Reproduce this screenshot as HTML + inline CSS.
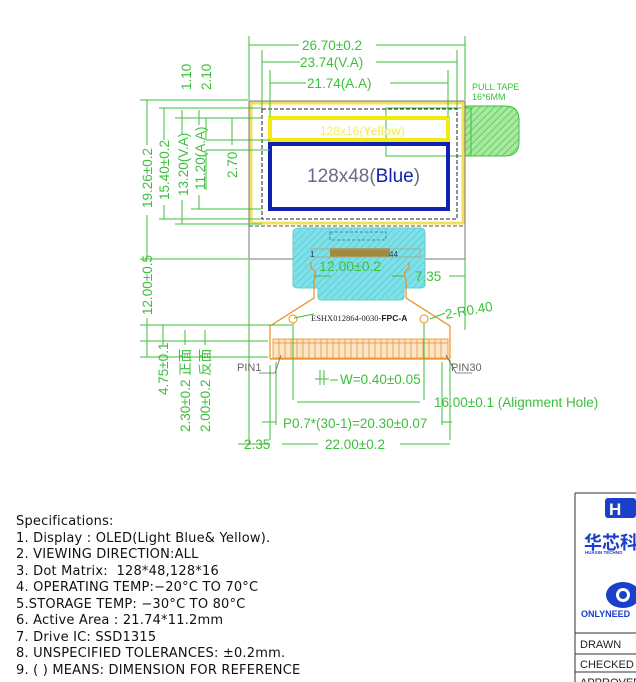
<!DOCTYPE html>
<html><head><meta charset="utf-8"><style>
body{margin:0;background:#fff;width:636px;height:682px;overflow:hidden;font-family:"Liberation Sans",sans-serif}
svg{position:absolute;left:0;top:0}
.sp{position:absolute;left:16px;top:514px;font-family:"DejaVu Sans",sans-serif;font-size:13px;line-height:16.5px;letter-spacing:0.2px;color:#111;white-space:pre}
</style></head><body>
<svg width="636" height="682" viewBox="0 0 636 682">
<defs>
<pattern id="hg" width="5" height="5" patternUnits="userSpaceOnUse" patternTransform="rotate(45)"><rect width="5" height="5" fill="#a8e8a0"/><line x1="0" y1="0" x2="0" y2="5" stroke="#3cbf3c" stroke-width="1.2"/></pattern>
<pattern id="hc" width="5" height="5" patternUnits="userSpaceOnUse" patternTransform="rotate(45)"><rect width="5" height="5" fill="#7fe0e8"/><line x1="0" y1="0" x2="0" y2="5" stroke="#40c0d0" stroke-width="1"/></pattern>
</defs>
<g fill="none">
<path d="M465 106 H505 Q519 106 519 120 V142 Q519 156 505 156 H465 Z" fill="url(#hg)" stroke="#3cbf3c"/>
<rect x="386" y="108" width="85" height="48" stroke="#3cbf3c"/>
<rect x="249" y="101" width="216" height="158" stroke="#777"/>
<rect x="251" y="103" width="212" height="120" stroke="#f0e060" stroke-width="3"/>
<line x1="249" y1="226" x2="465" y2="226" stroke="#555" stroke-dasharray="4,2"/>
<rect x="262" y="109" width="195" height="110" stroke="#222" stroke-dasharray="4,2"/>
<rect x="270" y="118" width="178" height="22" stroke="#f2ea10" stroke-width="4"/>
<rect x="270" y="144" width="178" height="65" stroke="#1020b0" stroke-width="4"/>
<path d="M293 233 Q293 228 300 228 H420 Q425 228 425 233 V285 Q425 288 420 288 H404 V297 Q404 300 400 300 H322 Q318 300 318 297 V288 H300 Q293 288 293 285 Z" fill="url(#hc)" stroke="#6cc"/>
<rect x="330" y="248" width="60" height="9" fill="#a08a40"/>
<rect x="312" y="249" width="108" height="8" stroke="#aa8"/>
<rect x="330" y="232" width="56" height="8" stroke="#4488aa" stroke-dasharray="3,2"/>
<path d="M311 262 V268 Q318 272 314 280 V298 L270 326 V359 M409 262 V268 Q402 272 406 280 V298 L450 326 V359 M270 359 H450" stroke="#e89020" stroke-width="1.2"/>
<rect x="273" y="339" width="175" height="19" fill="#fbe4c8" stroke="#e89020" stroke-width="0.8"/>
<g stroke="#e89020" stroke-width="0.7">
<path d="M279 339V358M285 339V358M291 339V358M297 339V358M303 339V358M309 339V358M315 339V358M321 339V358M327 339V358M333 339V358M339 339V358M345 339V358M351 339V358M357 339V358M363 339V358M369 339V358M375 339V358M381 339V358M387 339V358M393 339V358M399 339V358M405 339V358M411 339V358M417 339V358M423 339V358M429 339V358M435 339V358M441 339V358M273 343H448"/>
</g>
<circle cx="293" cy="319" r="4" stroke="#e89020"/><circle cx="424" cy="319" r="4" stroke="#e89020"/>
<g stroke="#3cbf3c" stroke-width="1">
<path d="M249 36V100M465 36V100M249 45H299M376 45H465M262 50V108M457 50V108M262 62H300M376 62H457M270 70V117M448 70V117M270 83H306M390 83H448"/>
<path d="M140 100H248M140 259H248M147 100V145M147 215V259M159 108H262M159 219H262M164 108V140M164 205V219M175 118H262M175 224H262M182 110V135M182 200V224M191 118H262M191 209H262M199 110V125M199 195V209M206 118V140M206 150V190M206 140H270M206 150H270M225 118H262M225 140H262M232 118V145"/>
<path d="M140 325H292M140 341H268M140 357H268M147 259V250M147 318V357M163 325V345M185 330V345M205 330V345"/>
<path d="M249 259V445M465 259V330M313 276H331M392 276H404M465 260V285M449 276H465"/>
<path d="M293 323V400M424 323V400M297 402H420M294 318L314 314M430 319L445 313"/>
<path d="M315 379H329M320 370V385M324 370V385M330 380H338"/>
<path d="M276 362V425M442 362V425M262 422H276M442 422H452M270 365V440M450 360V440M238 444H270M282 444H318M400 444H450"/>
</g>
<g stroke="#666" stroke-width="0.8"><path d="M259 373H275L281 355M456 373H472M456 373L446 355"/></g>
</g>
<g fill="#3cbf3c" font-size="13.5">
<text x="302" y="50">26.70±0.2</text>
<text x="300" y="67">23.74(V.A)</text>
<text x="307" y="88">21.74(A.A)</text>
<text x="472" y="90" font-size="9">PULL  TAPE</text>
<text x="472" y="100" font-size="9">16*6MM</text>
<text x="319" y="271" font-size="14">12.00±0.2</text>
<text x="415" y="281">7.35</text>
<text x="446" y="319" transform="rotate(-10 446 319)">2-R0.40</text>
<text x="340" y="384">W=0.40±0.05</text>
<text x="434" y="407">16.00±0.1 (Alignment Hole)</text>
<text x="283" y="428">P0.7*(30-1)=20.30±0.07</text>
<text x="244" y="449">2.35</text>
<text x="325" y="449">22.00±0.2</text>
<g transform="rotate(-90)">
<text x="-90" y="191">1.10</text>
<text x="-90" y="211">2.10</text>
<text x="-208" y="152">19.26±0.2</text>
<text x="-200" y="169">15.40±0.2</text>
<text x="-196" y="188">13.20(V.A)</text>
<text x="-190" y="205">11.20(A.A)</text>
<text x="-178" y="237">2.70</text>
<text x="-315" y="152">12.00±0.5</text>
<text x="-395" y="168">4.75±0.1</text>
<text x="-432" y="190">2.30±0.2 正面</text>
<text x="-432" y="210">2.00±0.2 反面</text>
</g>
</g>
<text x="320" y="135" font-size="12" fill="#f5ef60">128x16(<tspan font-weight="bold">Yellow</tspan>)</text>
<text x="307" y="182" font-size="19" fill="#6a6a8a">128x48(<tspan fill="#1020b0">Blue</tspan>)</text>
<text x="310" y="257" font-size="8" fill="#335">1</text><text x="389" y="257" font-size="8" fill="#335">44</text>
<text x="311" y="321" font-size="8.5" fill="#222" font-family="Liberation Serif">ESHX012864-0030-<tspan font-weight="bold" font-family="Liberation Sans">FPC-A</tspan></text>
<text x="237" y="371" font-size="11" fill="#666">PIN1</text>
<text x="451" y="371" font-size="11" fill="#666">PIN30</text>
<g stroke="#333" fill="none"><path d="M575 493H636M575 493V682M575 633H636M575 654H636M575 672H636"/></g>
<rect x="605" y="498" width="31" height="20" rx="3" fill="#1a3fc8"/>
<text x="609" y="515" font-size="17" fill="#fff" font-weight="bold">H</text>
<text x="584" y="549" font-size="18" fill="#1a3fc8" font-weight="bold" font-family="Noto Sans CJK SC,sans-serif">华芯科</text>
<text x="585" y="554" font-size="4.5" fill="#1a3fc8" font-weight="bold">HUAXIN TECHNO</text>
<ellipse cx="623" cy="595" rx="17" ry="13" fill="#1a3fc8"/><circle cx="623" cy="595" r="7" fill="#fff"/><circle cx="623" cy="595" r="4" fill="#1a3fc8"/>
<text x="581" y="617" font-size="9" fill="#1a3fc8" font-weight="bold">ONLYNEED</text>
<text x="580" y="648" font-size="11" fill="#222">DRAWN</text>
<text x="580" y="668" font-size="11" fill="#222">CHECKED</text>
<text x="580" y="686" font-size="11" fill="#222">APPROVED</text>
</svg>
<div class="sp">Specifications:
1. Display : OLED(Light Blue&amp; Yellow).
2. VIEWING DIRECTION:ALL
3. Dot Matrix:  128*48,128*16
4. OPERATING TEMP:−20°C TO 70°C
5.STORAGE TEMP: −30°C TO 80°C
6. Active Area : 21.74*11.2mm
7. Drive IC: SSD1315
8. UNSPECIFIED TOLERANCES: ±0.2mm.
9. ( ) MEANS: DIMENSION FOR REFERENCE</div>
</body></html>
